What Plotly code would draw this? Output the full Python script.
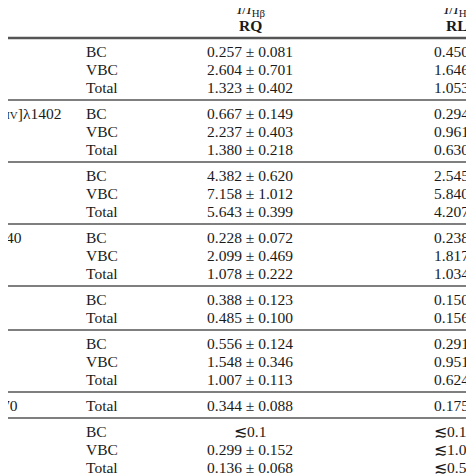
import plotly.graph_objects as go

SC = "<span style='font-size:11px'>IV</span>"
group_labels = ["Ld.", "O" + SC + "]λ1402", "", "λ1640", "", "", "λ1570", ""]
group_comps = [["BC", "VBC", "Total"], ["BC", "VBC", "Total"], ["BC", "VBC", "Total"],
               ["BC", "VBC", "Total"], ["BC", "Total"], ["BC", "VBC", "Total"], ["Total"],
               ["BC", "VBC", "Total"]]
rq_values = [["0.257 ± 0.081", "2.604 ± 0.701", "1.323 ± 0.402"],
             ["0.667 ± 0.149", "2.237 ± 0.403", "1.380 ± 0.218"],
             ["4.382 ± 0.620", "7.158 ± 1.012", "5.643 ± 0.399"],
             ["0.228 ± 0.072", "2.099 ± 0.469", "1.078 ± 0.222"],
             ["0.388 ± 0.123", "0.485 ± 0.100"],
             ["0.556 ± 0.124", "1.548 ± 0.346", "1.007 ± 0.113"],
             ["0.344 ± 0.088"],
             ["≲0.1", "0.299 ± 0.152", "0.136 ± 0.068"]]
right_values = [["0.450 ±", "1.646 ±", "1.053 ±"],
                ["0.294 ±", "0.961 ±", "0.630 ±"],
                ["2.545 ±", "5.840 ±", "4.207 ±"],
                ["0.238 ±", "1.817 ±", "1.034 ±"],
                ["0.150 ±", "0.156 ±"],
                ["0.291 ±", "0.951 ±", "0.624 ±"],
                ["0.175 ±"],
                ["≲0.1", "≲1.0", "≲0.5"]]

FONT = dict(family="Liberation Serif", size=15.5, color="#1a1a1a")
ann = []
shapes = []
def txt(x, y, t, anchor="left", bold=False):
    ann.append(dict(x=x, y=y, text=("<b>%s</b>" % t) if bold else t, xref="x", yref="y",
                    showarrow=False, xanchor=anchor, yanchor="middle", font=FONT))

# header
txt(10, 7, "Ld.", "right", bold=True)
txt(84, 7, "Comp.", bold=True)
txt(250, 9, "<i>I</i>/<i>I</i><sub>Hβ</sub>", "center")
txt(250, 25, "RQ", "center", bold=True)
txt(457, 9, "<i>I</i>/<i>I</i><sub>Hβ</sub>", "center")
txt(457, 25, "RL", "center", bold=True)
shapes.append(dict(type="line", xref="x", yref="y", x0=0, x1=480, y0=38, y1=38,
                   line=dict(color="#555", width=2.5)))

y = 51
for gi, comps in enumerate(group_comps):
    lab = group_labels[gi] if gi > 0 else ""
    if lab:
        rx = {1: 64, 3: 24, 6: 20}.get(gi, 10)
        txt(rx, y, lab, "right")
    for ri, c in enumerate(comps):
        txt(84, y, c)
        txt(250, y, rq_values[gi][ri], "center")
        txt(432, y, right_values[gi][ri])
        if ri < len(comps) - 1:
            y += 18
    if gi < len(group_comps) - 1:
        shapes.append(dict(type="line", xref="x", yref="y", x0=0, x1=480, y0=y + 13, y1=y + 13,
                           line=dict(color="#555", width=1.5)))
        y += 26

# page body has an 8px margin: shift the drawing area so data units equal page pixels
fig = go.Figure()
fig.update_layout(width=466, height=466, margin=dict(l=0, r=0, t=0, b=0),
                  paper_bgcolor="white", plot_bgcolor="white",
                  xaxis=dict(range=[8, 474], visible=False, fixedrange=True),
                  yaxis=dict(range=[474, 8], visible=False, fixedrange=True),
                  annotations=ann, shapes=shapes, showlegend=False)
fig.write_html("out.html", config=dict(displayModeBar=False))
